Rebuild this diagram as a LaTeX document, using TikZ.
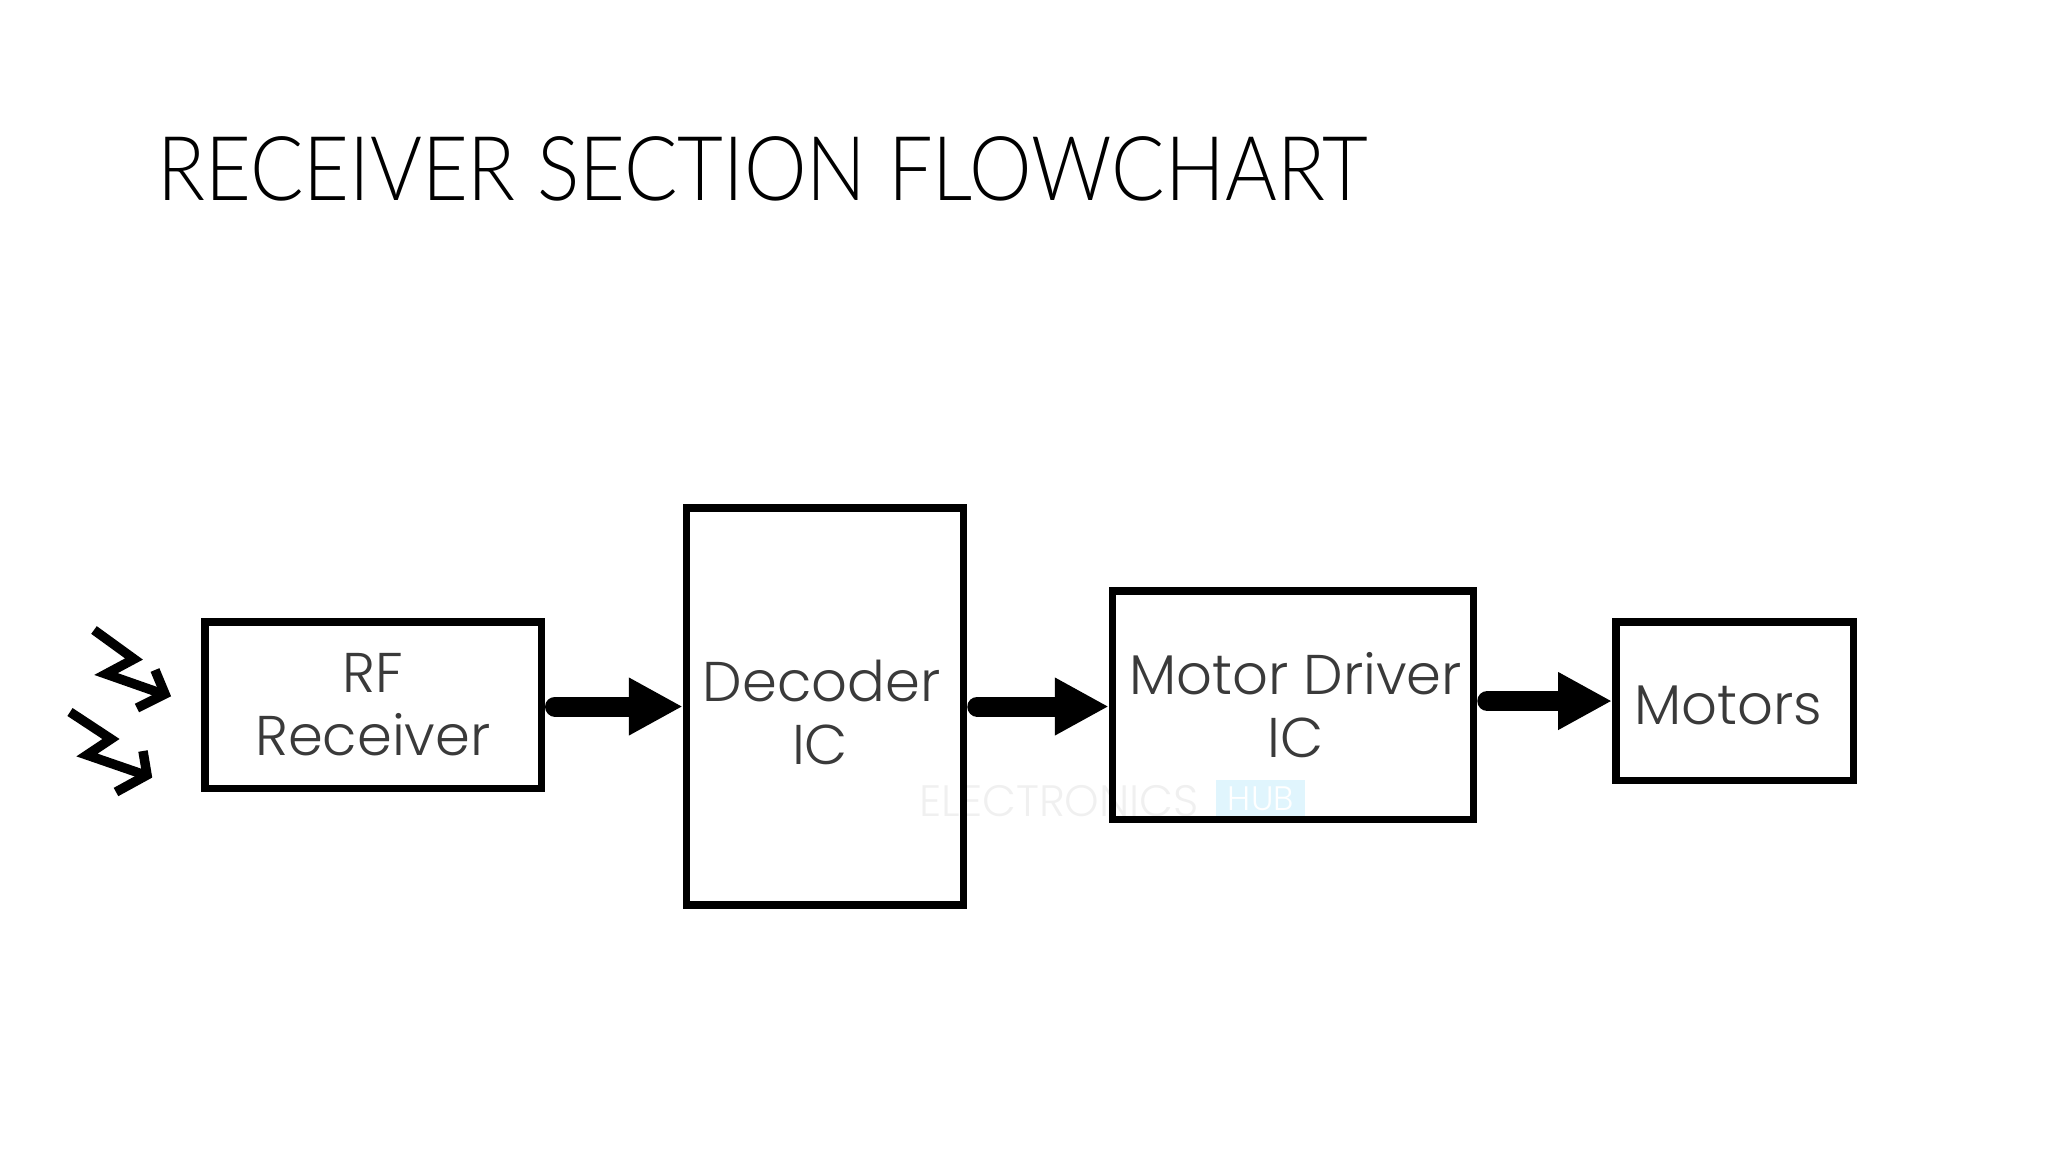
\documentclass[tikz,border=0pt]{standalone}
\usepackage{fontspec}
\setmainfont{Carlito}
\newfontfamily\boxfont{Poppins}[UprightFont=* Light]
\newfontfamily\titlefont{Lato}[UprightFont=* Light, FakeStretch=0.885]
\usetikzlibrary{arrows.meta}
\definecolor{boxtext}{HTML}{3A3A3A}
\tikzset{
  block/.style={draw=black, line width=3.75pt, inner sep=0pt, align=center,
    text=boxtext, font=\boxfont\fontsize{28}{31.5}\selectfont},
  flow/.style={line width=10pt, line cap=round, shorten <=5pt,
    -{Triangle[length=27pt,width=27pt]}},
  wave/.style={line width=4.75pt, line join=miter, miter limit=3, draw=black}
}
\begin{document}
\begin{tikzpicture}[x=0.5pt,y=-0.5pt]
\useasboundingbox (0,0) rectangle (2048,1152);
% title
\node[anchor=base west, inner sep=0pt, text=black, font=\titlefont\fontsize{44.7}{54}\selectfont] (title) at (157,200) {RECEIVER SECTION FLOWCHART};
% faint watermark
\node[anchor=base west, inner sep=0pt, text=black!6, font=\boxfont\fontsize{22}{22}\selectfont] (mark) at (919,816) {ELECTRONICS};
\node[anchor=north west, minimum width=44.5pt, minimum height=18pt, inner sep=0pt, fill=cyan!12, text=white, font=\boxfont\fontsize{17}{17}\selectfont] (hub) at (1216,780) {HUB};
% blocks
\node[block, minimum width=168.25pt, minimum height=83.25pt] (rf) at (373,705) {RF\\Receiver};
\node[block, minimum width=138.5pt, minimum height=198.5pt] (dec) at (825,706.5) {\hspace{-3.5pt}\rule{0pt}{27pt}Decoder\\\hspace{-5pt}IC};
\node[block, minimum width=180.5pt, minimum height=114.25pt] (drv) at (1293,705) {\hspace{2.5pt}Motor Driver\\\hspace{2.5pt}IC};
\node[block, minimum width=118.75pt, minimum height=79.25pt] (mot) at (1734.5,701) {\hspace{-6.5pt}\rule{0pt}{24pt}Motors};
% connectors
\draw[flow] (rf.east |- dec.west) -- (dec.west);
\draw[flow] (dec.east) -- (dec.east -| drv.west);
\draw[flow] (mot.west -| drv.east) -- (mot.west);
% incoming signal
\draw[wave] (94,630) -- (134,659) -- (106,674) -- (163,694);
\draw[wave] (155,670) -- (165,694) -- (137,708);
\draw[wave] (70,712) -- (111,739) -- (87,755) -- (145,775);
\draw[wave] (143,751) -- (147,775) -- (116,792);
\end{tikzpicture}
\end{document}
